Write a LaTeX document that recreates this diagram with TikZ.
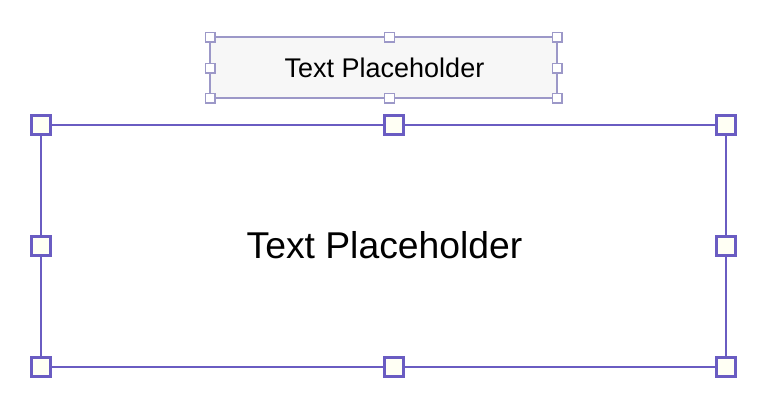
\documentclass[tikz,border=0pt]{standalone}
\usepackage{fontspec}
\setmainfont{Liberation Sans}
\definecolor{bigline}{HTML}{6A5CC2}
\definecolor{smallline}{HTML}{9C98C8}
\definecolor{handlefill}{HTML}{FFFFF4}
\definecolor{smallfill}{HTML}{F7F7F7}
\begin{document}
\begin{tikzpicture}[x=1pt,y=-1pt,
  bighandle/.style={draw=bigline,line width=2.6pt,fill=handlefill,minimum size=19pt,inner sep=0pt,outer sep=0pt},
  smallhandle/.style={draw=smallline,line width=1.2pt,fill=white,minimum size=9.8pt,inner sep=0pt,outer sep=0pt},
  bigedge/.style={draw=bigline,line width=1.9pt},
  smalledge/.style={draw=smallline,line width=1.2pt}]
\useasboundingbox (0,0) rectangle (768,402);
% small box
\fill[smallfill] (210,37) rectangle (557,98);
\coordinate (s1) at (210,37);
\coordinate (s2) at (557,37);
\coordinate (s3) at (557,98);
\coordinate (s4) at (210,98);
\draw[smalledge] (s1) -- (s2) -- (s3) -- (s4) -- cycle;
\node[font=\fontsize{27}{31}\selectfont] (stxt) at (384.5,68) {Text Placeholder};
\foreach \p/\n in {{210,37}/a,{389.5,37}/b,{557,37}/c,{210,68}/d,{557,68}/e,{210,98}/f,{389.5,98}/g,{557,98}/h}
  \node[smallhandle] (sh\n) at (\p) {};
% big box
\coordinate (b1) at (41,125);
\coordinate (b2) at (726,125);
\coordinate (b3) at (726,367);
\coordinate (b4) at (41,367);
\draw[bigedge] (b1) -- (b2) -- (b3) -- (b4) -- cycle;
\node[font=\fontsize{37.3}{43}\selectfont] (btxt) at (384.5,245) {Text Placeholder};
\foreach \p/\n in {{41,125}/a,{394,125}/b,{726,125}/c,{41,246}/d,{726,246}/e,{41,367}/f,{394,367}/g,{726,367}/h}
  \node[bighandle] (bh\n) at (\p) {};
\end{tikzpicture}
\end{document}
